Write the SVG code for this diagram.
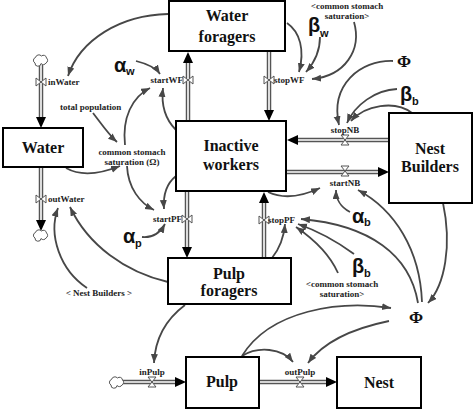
<svg xmlns="http://www.w3.org/2000/svg" width="474" height="410" viewBox="0 0 474 410">
<style>
.box{fill:#fff;stroke:#000;stroke-width:2}
.bl{font-family:"Liberation Serif",serif;font-weight:bold;font-size:16px;text-anchor:middle;fill:#111}
.sm{font-family:"Liberation Serif",serif;font-weight:bold;font-size:9px;fill:#222}
.mid{text-anchor:middle}
.end{text-anchor:end}
.gr{font-family:"Liberation Sans",sans-serif;font-weight:bold;font-size:20px;fill:#111}
.sub{font-family:"Liberation Sans",sans-serif;font-weight:bold;font-size:11px;fill:#111}
.phi{font-family:"Liberation Serif",serif;font-weight:bold;font-size:17px;text-anchor:middle;fill:#111}
.po{fill:none;stroke:#555;stroke-width:4.5}
.pi{fill:none;stroke:#fff;stroke-width:1.6}
.ah{fill:#000}
.valve{fill:#fff;stroke:#555;stroke-width:1}
.cl{fill:#fff;stroke:#555;stroke-width:1}
.c{fill:none;stroke:#474747;stroke-width:1.8;marker-end:url(#a)}
</style>
<defs>
<marker id="a" markerUnits="userSpaceOnUse" markerWidth="10" markerHeight="8" refX="9" refY="3.5" orient="auto">
<path d="M0,0 L9,3.5 L0,7 z" fill="#474747"/>
</marker>
<path id="cloud" d="M-6,3 a3,3 0 0 1 0.5,-5.5 a3.5,3.5 0 0 1 6,-1.5 a3,3 0 0 1 5,2 a3,3 0 0 1 -0.5,5 a3,3 0 0 1 -5,0.5 a3,3 0 0 1 -6,-0.5 z"/>
<g id="vv"><polygon points="-5,-4 0,0 -5,4"/><polygon points="5,-4 0,0 5,4"/></g>
<g id="vh"><polygon points="-4,-5 0,0 4,-5"/><polygon points="-4,5 0,0 4,5"/></g>
</defs>

<g id="flows">
<path class="po" d="M41,65 V118"/><path class="pi" d="M41,65 V118"/>
<polygon class="ah" points="36,117 46,117 41,128"/>
<use href="#cloud" x="41" y="60" class="cl"/>
<use href="#vv" x="41" y="82" class="valve"/>
<path class="po" d="M41,168 V222"/><path class="pi" d="M41,168 V222"/>
<polygon class="ah" points="36,220 46,220 41,231"/>
<use href="#cloud" x="41" y="235" class="cl"/>
<use href="#vv" x="41" y="199" class="valve"/>
<path class="po" d="M188,121 V62"/><path class="pi" d="M188,121 V62"/>
<polygon class="ah" points="183,63 193,63 188,52"/>
<use href="#vv" x="188" y="80" class="valve"/>
<path class="po" d="M269,51 V111"/><path class="pi" d="M269,51 V111"/>
<polygon class="ah" points="264,110 274,110 269,121"/>
<use href="#vv" x="269" y="80" class="valve"/>
<path class="po" d="M389,140 H297"/><path class="pi" d="M389,140 H297"/>
<polygon class="ah" points="298,135 298,145 287,140"/>
<use href="#vh" x="345" y="140" class="valve"/>
<path class="po" d="M287,172 H379"/><path class="pi" d="M287,172 H379"/>
<polygon class="ah" points="378,167 378,177 389,172"/>
<use href="#vh" x="345" y="171" class="valve"/>
<path class="po" d="M187,191 V248"/><path class="pi" d="M187,191 V248"/>
<polygon class="ah" points="182,247 192,247 187,258"/>
<use href="#vv" x="187" y="219" class="valve"/>
<path class="po" d="M264,258 V202"/><path class="pi" d="M264,258 V202"/>
<polygon class="ah" points="259,203 269,203 264,192"/>
<use href="#vv" x="264" y="220" class="valve"/>
<path class="po" d="M121,382 H176"/><path class="pi" d="M121,382 H176"/>
<polygon class="ah" points="175,377 175,387 186,382"/>
<use href="#cloud" x="117" y="382" class="cl"/>
<use href="#vh" x="152" y="382" class="valve"/>
<path class="po" d="M259,382 H327"/><path class="pi" d="M259,382 H327"/>
<polygon class="ah" points="326,377 326,387 337,382"/>
<use href="#vh" x="300" y="382" class="valve"/>
</g>

<g id="connectors">
<path class="c" d="M168,14 C120,15 80,40 68,76"/>
<path class="c" d="M136,61 C148,64 156,68 160,74"/>
<path class="c" d="M93,113 C100,122 108,134 117,142"/>
<path class="c" d="M125,145 C122,118 132,97 150,88"/>
<path class="c" d="M176,130 C166,120 161,105 163,88"/>
<path class="c" d="M66,168 C80,176 100,174 120,166"/>
<path class="c" d="M127,166 C128,188 140,203 154,210"/>
<path class="c" d="M176,176 C166,184 163,196 164,209"/>
<path class="c" d="M142,237 C152,238 160,233 165,224"/>
<path class="c" d="M87,288 C60,270 48,235 58,208"/>
<path class="c" d="M168,282 C125,272 88,245 70,207"/>
<path class="c" d="M185,305 C165,320 155,340 154,363"/>
<path class="c" d="M287,23 C300,32 305,50 299,72"/>
<path class="c" d="M320,37 C320,52 315,62 306,72"/>
<path class="c" d="M354,22 C362,50 345,76 312,79"/>
<path class="c" d="M393,61 C360,60 330,85 339,125"/>
<path class="c" d="M397,89 C375,90 355,105 347,123"/>
<path class="c" d="M412,113 C395,100 365,105 351,121"/>
<path class="c" d="M268,192 C285,200 305,195 320,188"/>
<path class="c" d="M350,212 C340,207 336,198 336,190"/>
<path class="c" d="M422,302 C420,250 395,210 358,190"/>
<path class="c" d="M418,303 C410,255 370,225 301,219"/>
<path class="c" d="M354,254 C335,240 315,230 298,224"/>
<path class="c" d="M338,273 C330,255 315,240 296,227"/>
<path class="c" d="M272,258 C280,248 284,236 285,224"/>
<path class="c" d="M443,203 C452,245 445,285 428,303"/>
<path class="c" d="M242,356 C270,310 340,300 391,308"/>
<path class="c" d="M242,356 C258,346 282,348 293,362"/>
<path class="c" d="M389,321 C355,328 325,340 308,363"/>
</g>

<g id="water-foragers"><rect class="box" x="169" y="1" width="116" height="50"/><text class="bl" x="227" y="21">Water</text><text class="bl" x="227" y="42">foragers</text></g>
<g id="inactive-workers"><rect class="box" x="176" y="121" width="110" height="70"/><text class="bl" x="231" y="151">Inactive</text><text class="bl" x="231" y="170">workers</text></g>
<g id="water"><rect class="box" x="3" y="128" width="80" height="39"/><text class="bl" x="43" y="153">Water</text></g>
<g id="nest-builders"><rect class="box" x="389" y="113" width="83" height="90"/><text class="bl" x="430" y="154">Nest</text><text class="bl" x="430" y="172">Builders</text></g>
<g id="pulp-foragers"><rect class="box" x="168" y="258" width="123" height="46"/><text class="bl" x="229" y="279">Pulp</text><text class="bl" x="229" y="296">foragers</text></g>
<g id="pulp"><rect class="box" x="186" y="357" width="73" height="51"/><text class="bl" x="222" y="387">Pulp</text></g>
<g id="nest"><rect class="box" x="337" y="357" width="84" height="51"/><text class="bl" x="379" y="388">Nest</text></g>

<g id="labels">
<text class="sm" x="48" y="85">inWater</text>
<text class="sm" x="48" y="202">outWater</text>
<text class="sm end" x="183" y="83">startWF</text>
<text class="sm" x="274" y="83">stopWF</text>
<text class="sm mid" x="345" y="133">stopNB</text>
<text class="sm mid" x="345" y="186">startNB</text>
<text class="sm end" x="182" y="222">startPF</text>
<text class="sm" x="268" y="223">stopPF</text>
<text class="sm mid" x="152" y="375">inPulp</text>
<text class="sm mid" x="300" y="375">outPulp</text>
<text class="sm" x="60" y="110">total population</text>
<text class="sm mid" x="132" y="155">common stomach</text>
<text class="sm mid" x="132" y="165">saturation (Ω)</text>
<text class="sm mid" x="99" y="296">&lt; Nest Builders &gt;</text>
<text class="sm mid" x="347" y="9">&lt;common stomach</text>
<text class="sm mid" x="347" y="19">saturation&gt;</text>
<text class="sm mid" x="342" y="287">&lt;common stomach</text>
<text class="sm mid" x="342" y="297">saturation&gt;</text>
<text class="gr" x="114" y="72">α</text><text class="sub" x="126" y="75">w</text>
<text class="gr" x="123" y="243">α</text><text class="sub" x="135" y="247">p</text>
<text class="gr" x="352" y="223">α</text><text class="sub" x="364" y="226">b</text>
<text class="gr" x="308" y="32">β</text><text class="sub" x="320" y="37">w</text>
<text class="gr" x="400" y="101">β</text><text class="sub" x="412" y="105">b</text>
<text class="gr" x="352" y="273">β</text><text class="sub" x="364" y="277">b</text>
<text class="phi" x="404" y="67">Φ</text>
<text class="phi" x="416" y="323">Φ</text>
</g>
</svg>
